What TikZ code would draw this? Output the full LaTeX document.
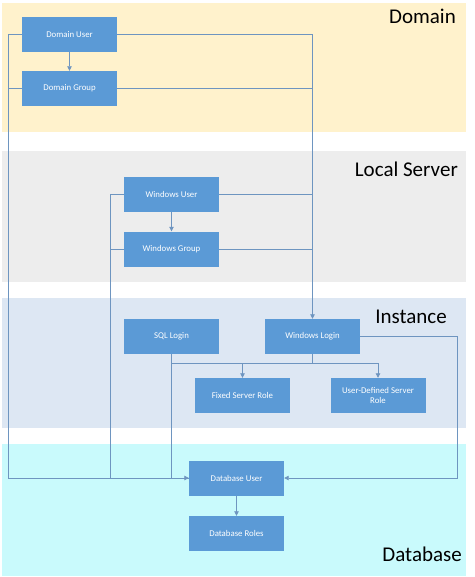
\documentclass[tikz,border=0pt]{standalone}
\usepackage{fontspec}
\setmainfont{Carlito}
\usetikzlibrary{arrows.meta}
\definecolor{boxblue}{HTML}{5B9AD6}
\definecolor{linkblue}{HTML}{6E95C0}
\definecolor{domainfill}{HTML}{FFF2CC}
\definecolor{serverfill}{HTML}{EDEDED}
\definecolor{instancefill}{HTML}{DDE7F3}
\definecolor{databasefill}{HTML}{C9FAFC}
\begin{document}
\begin{tikzpicture}[
                x=1pt, y=-1pt,
                box/.style={rectangle,fill=boxblue,text=white,font=\fontsize{8.8}{10}\selectfont,
                        minimum width=95pt,minimum height=35pt,inner sep=1pt,align=center},
                bandlabel/.style={anchor=base east,inner sep=0pt,font=\fontsize{21}{24}\selectfont},
                link/.style={draw=linkblue,line width=0.8pt},
                tip/.style={link,-{Triangle[width=4.5pt,length=4.5pt]}}
            ]

            \useasboundingbox (0,0) rectangle (474,577);

            \fill[domainfill] (2,3) rectangle (466,132);
            \fill[serverfill] (2,151) rectangle (466,282);
            \fill[instancefill] (2,298) rectangle (466,428);
            \fill[databasefill] (2,444) rectangle (466,576);

            \node[bandlabel] (domain) at (456,24) {Domain};
            \node[bandlabel] (localserver) at (458,177) {Local Server};
            \node[bandlabel] (instance) at (447,323) {Instance};
            \node[bandlabel] (database) at (462,561) {Database};

            \node[box] (du) at (69.5,34.5) {Domain User};
            \node[box] (dg) at (69.5,88.5) {Domain Group};
            \node[box] (wu) at (171.5,194.5) {Windows User};
            \node[box] (wg) at (171.5,249) {Windows Group};
            \node[box] (sql) at (171.5,336.5) {SQL Login};
            \node[box] (wl) at (312.5,336.5) {Windows Login};
            \node[box] (fsr) at (242.5,395.5) {Fixed Server Role};
            \node[box] (udsr) at (378,395.5) {User-Defined Server\\Role};
            \node[box] (dbu) at (236.5,478) {Database User};
            \node[box] (dbr) at (236.5,533.5) {Database Roles};

            \coordinate (lrail) at (8,0);
            \coordinate (mrail) at (110,0);
            \coordinate (rrail) at (457,0);
            \coordinate (split) at (312.5,363);

            \draw[tip] (du) -- (dg);
            \draw[tip] (wu) -- (wg);
            \draw[tip] (dbu) -- (dbr);

            \draw[link] (dg.west) -- (dg.west -| lrail);
            \draw[tip] (du.west) -- (du.west -| lrail) |- (dbu.west);
            \draw[link] (wg.west) -- (wg.west -| mrail);
            \draw[link] (wu.west) -- (wu.west -| mrail) |- (dbu.west);
            \draw[link] (sql.south) |- (dbu.west);

            \draw[link] (dg.east) -- (dg.east -| wl.north);
            \draw[link] (wu.east) -- (wu.east -| wl.north);
            \draw[link] (wg.east) -- (wg.east -| wl.north);
            \draw[tip] (du.east) -| (wl.north);

            \draw[link] (wl.south) -- (split);
            \draw[tip] (sql.south |- split) -| (udsr.north);
            \draw[tip] (split -| fsr.north) -- (fsr.north);

            \draw[tip] (wl.east) -| (wl.east -| rrail) |- (dbu.east);

        \end{tikzpicture}
\end{document}
